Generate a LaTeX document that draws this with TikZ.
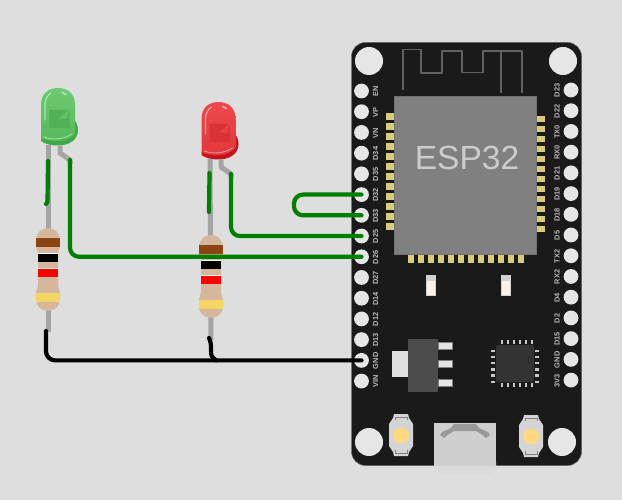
\documentclass[tikz,border=0pt]{standalone}
\usepackage{fontspec}
\setmainfont{Liberation Sans}
\definecolor{bgc}{HTML}{DEDEDE}
\definecolor{pcb}{HTML}{1A1A1A}
\definecolor{holec}{HTML}{E6E6E6}
\definecolor{chipc}{HTML}{808080}
\definecolor{padc}{HTML}{D9CC7C}
\definecolor{wiregreen}{HTML}{008000}
\definecolor{leadc}{HTML}{A4A4A4}
\definecolor{tanA}{HTML}{D6B79B}
\definecolor{tanB}{HTML}{E6CFB8}
\definecolor{bandbrown}{HTML}{8B4513}
\definecolor{bandyellow}{HTML}{F3D765}
\definecolor{gA}{HTML}{6CCB6E}
\definecolor{gB}{HTML}{58BA5C}
\definecolor{gC}{HTML}{40A848}
\definecolor{gD}{HTML}{50B256}
\definecolor{rA}{HTML}{EE484C}
\definecolor{rB}{HTML}{E2383C}
\definecolor{rC}{HTML}{C4141B}
\definecolor{rD}{HTML}{D93236}
\definecolor{capc}{HTML}{FFD97F}
\tikzset{
  pinhole/.style={fill=holec,draw=none},
  pinlabel/.style={rotate=90,text=black!27,font=\fontsize{7.4}{7}\selectfont\bfseries,inner sep=0pt},
  pad/.style={fill=padc,draw=none},
  wire/.style={line width=4.2pt,line cap=round,line join=round,rounded corners=9pt},
  greenwire/.style={wire,draw=wiregreen},
  blackwire/.style={wire,draw=black},
  lead/.style={line width=5pt,draw=leadc},
  smdled/.style={fill=black!18,draw=none},
  button/.style={fill=black!17,draw=none},
  btnmark/.style={draw=black!50,line width=.7pt},
  btncap/.style={fill=capc,draw=none},
  usb/.style={fill=black!19,draw=none},
  usbdark/.style={fill=black!40,draw=none},
  icpin/.style={fill=black!22,draw=none},
  highlight/.style={draw=white,opacity=.5,line cap=round},
}
% LED body: #1 dome top, #2 dome bottom, #3 flange, #4 inner mark
\newcommand{\ledbody}[4]{%
  \fill[#3] (0,50) -- (0,53) .. controls (4,56) and (10,57.5) .. (17,57.5)
     .. controls (28,57.5) and (37,52) .. (37,42) .. controls (37,37) and (35,34) .. (34,33) -- (34,45) -- cycle;
  \path[top color=#1,bottom color=#2] (0,51) -- (0,17) .. controls (0,6) and (7,0) .. (17,0)
     .. controls (27,0) and (34,6) .. (34,17) -- (34,46)
     .. controls (30,50) and (24,53) .. (17,53) .. controls (10,53) and (4,52) .. (0,51) -- cycle;
  \fill[#4] (8,22) -- (27,22) -- (17,31) -- (26,31) -- (28,22) -- (29,40) -- (8,40) -- cycle;
  \draw[highlight,line width=1.2pt] (4,32) -- (4,16) .. controls (4,11) and (7,7) .. (10,5);
  \draw[highlight,line width=1.6pt] (21,4.5) -- (25,6.5);
  \draw[highlight,line width=.8pt] (3,49) .. controls (10,52) and (22,52) .. (31,46);
}
\newcommand{\resistorbody}{%
  \path[left color=tanA,middle color=tanB,right color=tanA] (0,0)
     .. controls (-7,0) and (-12,5) .. (-12,13) -- (-12,17) .. controls (-12,21) and (-10,23) .. (-10,27)
     -- (-10,56) .. controls (-10,60) and (-12,62) .. (-12,66) -- (-12,71) .. controls (-12,78) and (-7,83) .. (0,83)
     .. controls (7,83) and (12,78) .. (12,71) -- (12,66) .. controls (12,62) and (10,60) .. (10,56)
     -- (10,27) .. controls (10,23) and (12,21) .. (12,17) -- (12,13) .. controls (12,5) and (7,0) .. (0,0) -- cycle;
  \fill[bandbrown] (-12,10) rectangle (12,19);
  \fill[white] (-10,25.5) rectangle (10,34.5);
  \fill[black] (-10,26) rectangle (9.5,34);
  \fill[white!70!tanB] (-10,40.5) rectangle (10,49.5);
  \fill[red] (-10,41) rectangle (9.5,49);
  \fill[bandyellow] (-12,65) rectangle (12,73.5);
}
\begin{document}
\begin{tikzpicture}[x=1pt,y=-1pt]
\useasboundingbox (0,0) rectangle (622,500);
\fill[bgc] (0,0) rectangle (622,500);

% ---------- board ----------
\fill[pcb,draw=black!60,line width=.5pt,rounded corners=14pt] (351.5,42.5) rectangle (581.5,465.5);
\foreach \hx/\hy in {369/61,563/61,369/442,562/442}
  \fill[holec] (\hx,\hy) circle (14);

% antenna
\draw[draw=black!62,line width=1.2pt,line join=round]
  (403,90) -- (403,49.5) -- (421,49.5) -- (421,73) -- (442,73) -- (442,51) -- (462,51) -- (462,72.5) -- (483,72.5) -- (483,51) -- (522,51) -- (522,93);
\draw[draw=black!62,line width=1.2pt] (501,51) -- (501,93);

% chip pads
\foreach \k in {0,...,11} {
  \fill[pad] (385.5,{113.5+10*\k}) rectangle (394,{120.5+10*\k});
  \fill[pad] (536,{116+10*\k}) rectangle (544.5,{122.5+10*\k});
  \fill[pad] ({408+10*\k},254) rectangle ({414+10*\k},263.5);
}
\fill[chipc,draw=black!55,line width=.5pt] (394,96) rectangle (536,254);
\node[inner sep=0pt,text=black!20,font=\fontsize{33.5}{34}\selectfont] (esplabel) at (467,158) {ESP32};

% pins
\foreach \t [count=\i] in {EN,VP,VN,D34,D35,D32,D33,D25,D26,D27,D14,D12,D13,GND,VIN} {
  \coordinate (L\i) at (361.5,{91+20.72*(\i-1)});
  \fill[pinhole] (L\i) circle (7.4);
  \node[pinlabel] (LT\i) at (375.5,{91+20.72*(\i-1)+0.5}) {\t};
}
\foreach \t [count=\i] in {D23,D22,TX0,RX0,D21,D19,D18,D5,TX2,RX2,D4,D2,D15,GND,3V3} {
  \coordinate (R\i) at (571,{90+20.72*(\i-1)});
  \fill[pinhole] (R\i) circle (7.4);
  \node[pinlabel] (RT\i) at (557,{90+20.72*(\i-1)+0.5}) {\t};
}

% small SMD leds
\foreach \sx in {431,506} {
  \fill[smdled] ({\sx-5},275) rectangle ({\sx+5},296);
  \fill[orange!10!white] ({\sx-4.5},281) rectangle ({\sx+4},295);
}

% regulator
\fill[black!12] (392,351) rectangle (408,376.5);
\fill[black!70] (408,338.5) rectangle (438,392);
\foreach \py in {342.5,360.5,379.5}
  \fill[black!10,draw=black!50,line width=.4pt] (438,\py) rectangle (452,{\py+7});

% QFN
\fill[black!80,rounded corners=2pt] (496,345) rectangle (534,382);
\foreach \k in {0,...,5} {
  \fill[icpin] ({500.5+\k*6},340) rectangle ({503+\k*6},344);
  \fill[icpin] ({500.5+\k*6},383) rectangle ({503+\k*6},387);
  \fill[icpin] (491,{349.5+\k*6.2}) rectangle (495,{352+\k*6.2});
  \fill[icpin] (535,{349.5+\k*6.2}) rectangle (539,{352+\k*6.2});
}

% push buttons
\foreach \bx/\by in {401/435,531/436} {
  \fill[button] ({\bx-7},{\by-21}) -- ({\bx+7},{\by-21}) -- ({\bx+8},{\by-17}) -- ({\bx+12},{\by-11})
     -- ({\bx+12},{\by+11}) -- ({\bx+8},{\by+17}) -- ({\bx+7},{\by+21}) -- ({\bx-7},{\by+21})
     -- ({\bx-8},{\by+17}) -- ({\bx-12},{\by+11}) -- ({\bx-12},{\by-11}) -- ({\bx-8},{\by-17}) -- cycle;
  \draw[btnmark] ({\bx-6},{\by-15}) -- ({\bx-6},{\by-18}) -- ({\bx+6},{\by-18}) -- ({\bx+6},{\by-15});
  \draw[btnmark] ({\bx-6},{\by+15}) -- ({\bx-6},{\by+18}) -- ({\bx+6},{\by+18}) -- ({\bx+6},{\by+15});
  \fill[btncap] (\bx,{\by+.5}) circle (8);
}

% USB
\fill[black!14] (434,462) -- (496,462) -- (496,470) -- (491,474) -- (439,474) -- (434,470) -- cycle;
\fill[usb] (434,422.5) rectangle (496,466);
\fill[usbdark] (442,432) -- (451,428) -- (454,424) -- (476,424) -- (479,428) -- (488,432) -- (490,435) -- (486,438) -- (481,434) -- (476,431) -- (454,431) -- (449,434) -- (444,438) -- (440,435) -- cycle;

% ---------- LED + resistor leads ----------
\coordinate (GA) at (48,145);
\coordinate (GK) at (60,146);
\coordinate (GKw) at (70,160);
\coordinate (RA) at (210,159);
\coordinate (RK) at (221,160);
\coordinate (RKw) at (231,174);
\draw[lead] (GA) -- (48,332);
\draw[lead,line join=round] (GK) -- (60,153) -- (GKw) -- (70,164);
\draw[lead] (RA) -- (211,340);
\draw[lead,line join=round] (RK) -- (221,167) -- (RKw) -- (231,178);

\begin{scope}[shift={(41,88)}]
  \ledbody{gA}{gB}{gC}{gD}
\end{scope}
\begin{scope}[shift={(201.5,102)}]
  \ledbody{rA}{rB}{rC}{rD}
\end{scope}

\begin{scope}[shift={(48,228)}]
  \resistorbody
\end{scope}
\begin{scope}[shift={(211,235)}]
  \resistorbody
\end{scope}

% ---------- wires ----------
\coordinate (GAw) at (48,161);
\coordinate (GAe) at (46,204);
\coordinate (RAw) at (209.5,173);
\coordinate (RAe) at (209,212);
\coordinate (Rb1) at (46,331);
\coordinate (Rb2) at (209,338);

\draw[greenwire,rounded corners=1pt] (GAw) -- (47.5,202) -- (GAe);
\draw[greenwire,rounded corners=1pt] (RAw) -- (RAe);
\draw[greenwire] (GKw) -- (GKw |- L9) -- (L9);
\draw[greenwire] (RKw) -- (RKw |- L8) -- (L8);
\draw[greenwire] (L6) -- (294,0 |- L6) -- (294,0 |- L7) -- (L7);
\draw[blackwire] (Rb1) -- (Rb1 |- L14) -- (L14);
\draw[blackwire,rounded corners=3pt] (Rb2) -- (211,343) -- (211,356) -- (216,0 |- L14);
\end{tikzpicture}
\end{document}
